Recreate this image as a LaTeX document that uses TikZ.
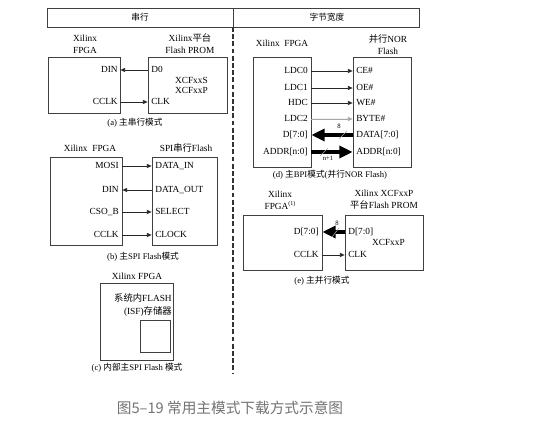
\documentclass[tikz,border=0pt]{standalone}
\usepackage{fontspec}
\setmainfont{Liberation Serif}
\newfontfamily\cjk{Noto Sans CJK SC}
\usetikzlibrary{arrows.meta,fit}
\begin{document}
\begin{tikzpicture}[x=0.75pt,y=-0.75pt,
  box/.style={draw=black!75,line width=0.6pt,inner sep=0pt},
  lbl/.style={inner sep=0pt,text height=5pt,text depth=1.5pt,font=\fontsize{7}{8}\selectfont},
  ttl/.style={inner sep=0pt,align=center,font=\fontsize{7}{9}\selectfont},
  captext/.style={inner sep=0pt,font=\fontsize{6.5}{8}\selectfont},
  hdr/.style={inner sep=0pt,font=\cjk\fontsize{6.5}{8}\selectfont},
  sig/.style={line width=0.5pt,draw=black!85,-{Triangle[length=3.5pt,width=3pt]}},
  bus/.style={line width=3pt,-{Triangle[length=10pt,width=9pt]}},
  slash/.style={draw=black!35,line width=0.4pt},
  bw/.style={inner sep=0pt,font=\fontsize{5}{6}\selectfont}
]
\useasboundingbox (0,0) rectangle (554,424);
\fill[white] (0,0) rectangle (554,424);

% header
\node[box,fit={(47,8)(233,27)}] (hl) {};
\node[box,fit={(233,8)(419,27)}] (hr) {};
\node[hdr] (hlt) at (140,17) {串行};
\node[hdr] (hrt) at (327,17) {字节宽度};
\draw[line width=1pt,draw=black!80,dash pattern=on 3.6pt off 1.8pt] (233,27) -- (233,373);

% (a)
\node[box,fit={(48,57)(120,113)}] (fa) {};
\node[box,fit={(148,57)(227,113)}] (fb) {};
\node[ttl] (fat) at (85,44) {Xilinx\\FPGA};
\node[ttl] (fbt) at (190,44) {Xilinx{\cjk 平台}\\Flash PROM};
\node[lbl,anchor=east] (adin) at (118,70) {DIN};
\node[lbl,anchor=east] (acclk) at (118,102) {CCLK};
\node[lbl,anchor=west] (ad0) at (151,70) {D0};
\node[lbl,anchor=east] (ax1) at (208,81) {XCFxxS};
\node[lbl,anchor=east] (ax2) at (208,91) {XCFxxP};
\node[lbl,anchor=west] (aclk) at (151,102) {CLK};
\draw[sig] (fb.west |- ad0) -- (fa.east |- adin);
\draw[sig] (fa.east |- acclk) -- (fb.west |- aclk);
\node[captext] (capa) at (135,123) {(a) {\cjk 主串行模式}};

% (b)
\node[box,fit={(50,157)(122,245)}] (ba) {};
\node[box,fit={(152,157)(217,245)}] (bb) {};
\node[ttl] (bat) at (90,148) {Xilinx\ \ FPGA};
\node[ttl] (bbt) at (186,148) {SPI{\cjk 串行}Flash};
\node[lbl,anchor=east] (bmosi) at (119,166) {MOSI};
\node[lbl,anchor=east] (bdin) at (119,190) {DIN};
\node[lbl,anchor=east] (bcso) at (119,212) {CSO\_B};
\node[lbl,anchor=east] (bcclk) at (119,235) {CCLK};
\node[lbl,anchor=west] (bdi) at (155,166) {DATA\_IN};
\node[lbl,anchor=west] (bdo) at (155,190) {DATA\_OUT};
\node[lbl,anchor=west] (bsel) at (155,212) {SELECT};
\node[lbl,anchor=west] (bclk) at (155,235) {CLOCK};
\draw[sig] (ba.east |- bmosi) -- (bb.west |- bdi);
\draw[sig] (bb.west |- bdo) -- (ba.east |- bdin);
\draw[sig] (ba.east |- bcso) -- (bb.west |- bsel);
\draw[sig] (ba.east |- bcclk) -- (bb.west |- bclk);
\node[captext] (capb) at (143,257) {(b) {\cjk 主}SPI Flash{\cjk 模式}};

% (c)
\node[box,fit={(100,283)(173,360)}] (ca) {};
\node[box,fit={(140,320)(170,352)}] (cb) {};
\node[ttl] (cat) at (137,276) {Xilinx FPGA};
\node[lbl,anchor=east] (ct1) at (172,299) {{\cjk 系统内}FLASH};
\node[lbl,anchor=east] (ct2) at (172,312) {(ISF){\cjk 存储器}};
\node[captext] (capc) at (137,368) {(c) {\cjk 内部主}SPI Flash {\cjk 模式}};

% (d)
\node[box,fit={(253,57)(311,167)}] (da) {};
\node[box,fit={(353,57)(411,167)}] (db) {};
\node[ttl] (dat) at (282,43) {Xilinx\ \ FPGA};
\node[ttl] (dbt) at (388,45) {{\cjk 并行}NOR\\Flash};
\node[lbl,anchor=east] (dl0) at (308,71) {LDC0};
\node[lbl,anchor=east] (dl1) at (308,88) {LDC1};
\node[lbl,anchor=east] (dhd) at (308,103) {HDC};
\node[lbl,anchor=east] (dl2) at (308,119) {LDC2};
\node[lbl,anchor=east] (dd) at (308,135) {D[7:0]};
\node[lbl,anchor=east] (dad) at (308,152) {ADDR[n:0]};
\node[lbl,anchor=west] (dce) at (356,71) {CE\#};
\node[lbl,anchor=west] (doe) at (356,88) {OE\#};
\node[lbl,anchor=west] (dwe) at (356,103) {WE\#};
\node[lbl,anchor=west] (dby) at (356,119) {BYTE\#};
\node[lbl,anchor=west] (ddt) at (356,135) {DATA[7:0]};
\node[lbl,anchor=west] (dab) at (356,152) {ADDR[n:0]};
\draw[sig] (da.east |- dl0) -- (db.west |- dce);
\draw[sig] (da.east |- dl1) -- (db.west |- doe);
\draw[sig] (da.east |- dhd) -- (db.west |- dwe);
\draw[sig,draw=black!35,fill=black!35] (da.east |- dl2) -- (db.west |- dby);
\draw[bus] (db.west |- ddt) -- (da.east |- dd);
\draw[bus] (da.east |- dad) -- (db.west |- dab);
\draw[slash] (339,139) -- (347,131);
\node[bw] (d8) at (339,126) {8};
\draw[slash] (320,156) -- (328,148);
\node[bw] (dn1) at (328,158) {n+1};
\node[captext] (capd) at (330,175) {(d) {\cjk 主}BPI{\cjk 模式}({\cjk 并行}NOR Flash)};

% (e)
\node[box,fit={(243,215)(322,270)}] (ea) {};
\node[box,fit={(345,215)(423,270)}] (eb) {};
\node[ttl] (eat) at (280,200) {Xilinx\\FPGA\raisebox{2.5pt}{\fontsize{4.5}{5}\selectfont(1)}};
\node[ttl] (ebt) at (384,200) {Xilinx XCFxxP\\{\cjk 平台}Flash PROM};
\node[lbl,anchor=east] (ed) at (319,232) {D[7:0]};
\node[lbl,anchor=east] (ecclk) at (319,255) {CCLK};
\node[lbl,anchor=west] (edb) at (348,232) {D[7:0]};
\node[lbl,anchor=east] (ex) at (405,243) {XCFxxP};
\node[lbl,anchor=west] (eclk) at (348,255) {CLK};
\draw[bus] (eb.west |- edb) -- (ea.east |- ed);
\draw[sig] (ea.east |- ecclk) -- (eb.west |- eclk);
\draw[slash] (332,237) -- (339,228);
\node[bw] (e8) at (337,223) {8};
\node[captext] (cape) at (322,281) {(e) {\cjk 主并行模式}};

% figure caption
\node[inner sep=0pt,text=black!55,font=\cjk\fontsize{11}{13}\selectfont] (fig) at (230,408) {图5–19 常用主模式下载方式示意图};
\end{tikzpicture}
\end{document}
